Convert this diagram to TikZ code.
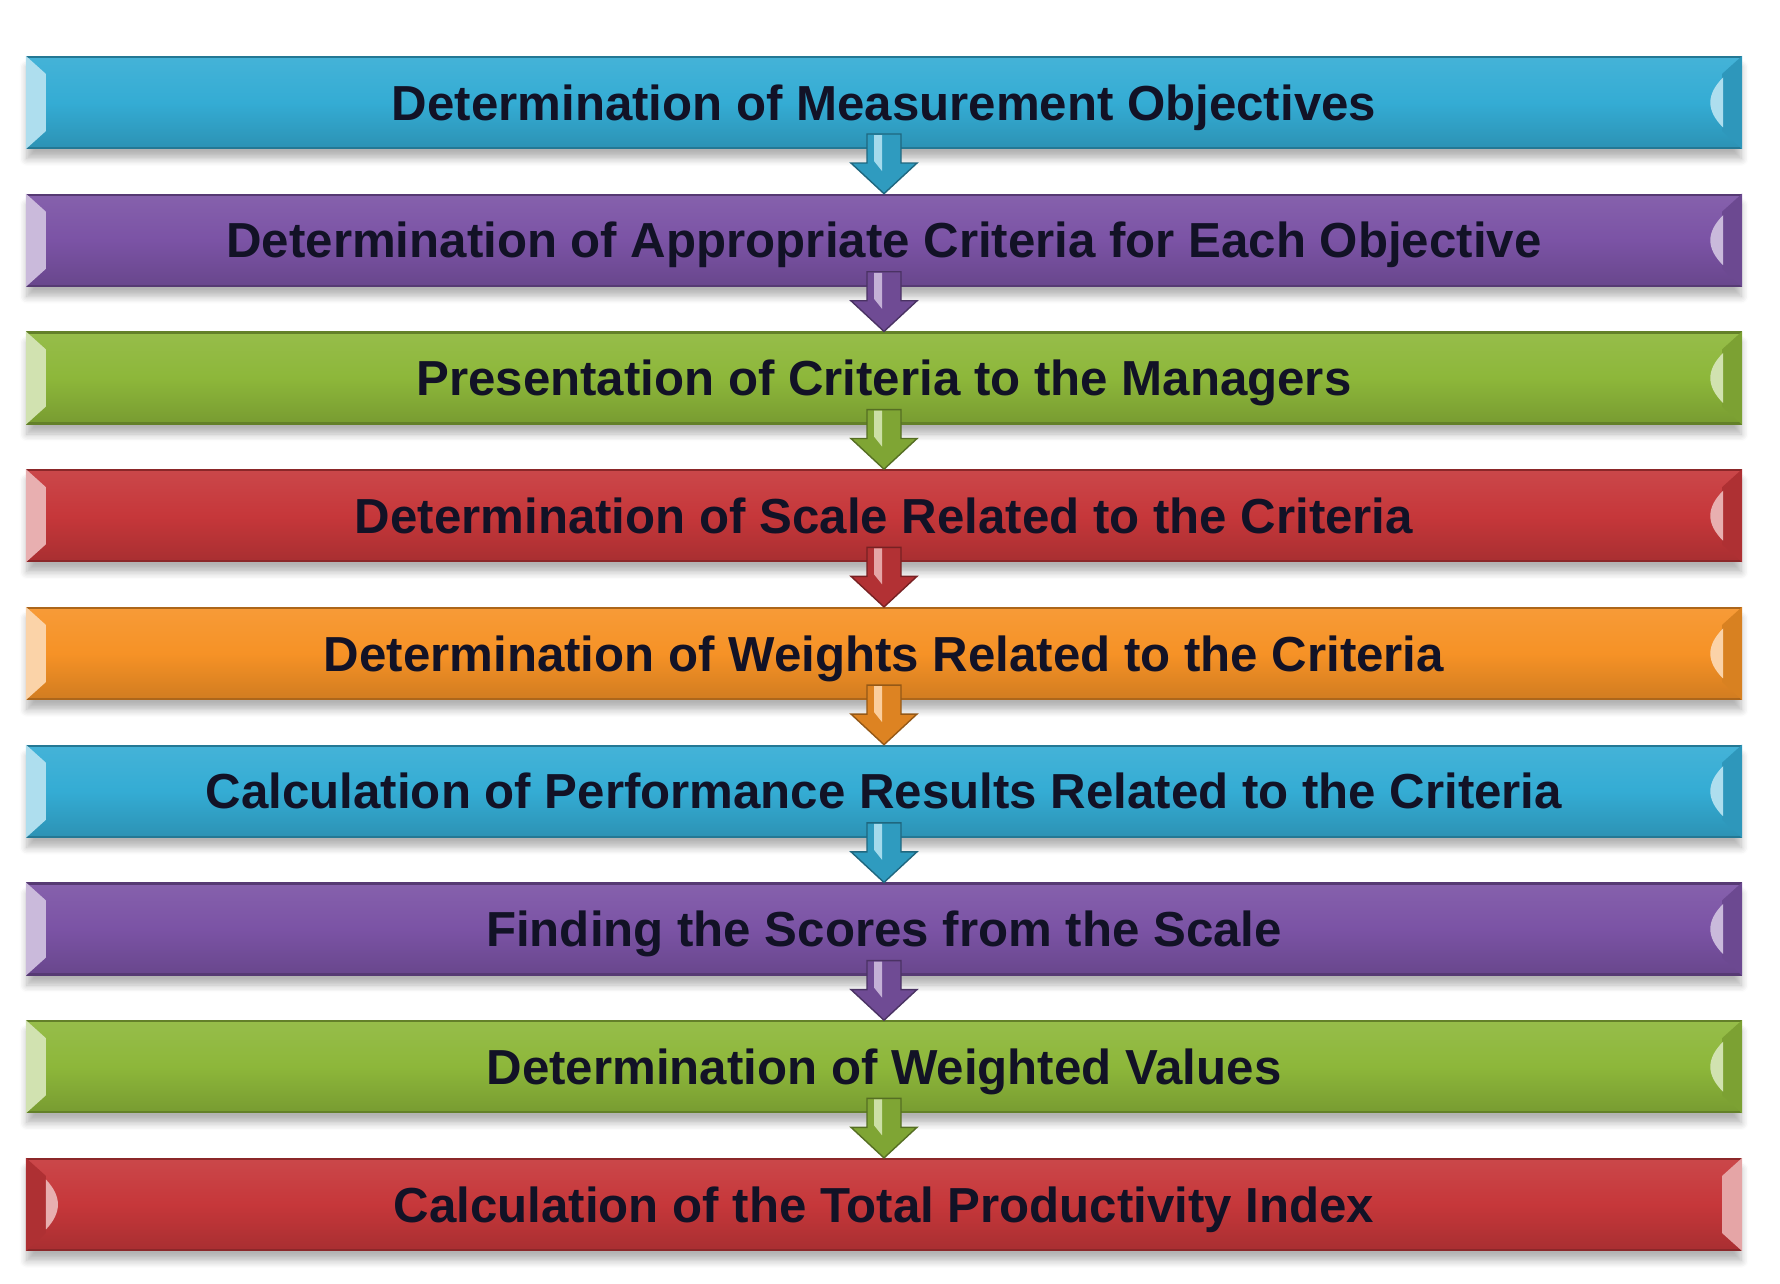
\documentclass[tikz,border=0pt]{standalone}
\usepackage{fontspec}
\setmainfont{Liberation Sans}
\usetikzlibrary{calc,shadows.blur}

\definecolor{cyanbar}{RGB}{52,172,212}
\definecolor{purplebar}{RGB}{123,83,165}
\definecolor{greenbar}{RGB}{141,183,58}
\definecolor{redbar}{RGB}{198,55,58}
\definecolor{orangebar}{RGB}{246,146,38}
\definecolor{textdark}{RGB}{18,18,38}

\begin{document}
\begin{tikzpicture}[stage_bar/.style={rectangle,draw=#1!70!black,line width=0.6pt,
        top color=#1!92!white,bottom color=#1!85!black,middle color=#1,
        minimum width=17.14cm,minimum height=0.91cm,inner sep=0pt,text height=10pt,text depth=0pt,
        font=\fontsize{14}{16}\selectfont\bfseries,text=textdark,
        blur shadow={shadow xshift=0pt,shadow yshift=-3pt,shadow blur steps=6,shadow opacity=30}},
    down_arrow/.style={fill=#1!90!black,draw=#1!60!black,line width=0.4pt}]
    \useasboundingbox (0,0) rectangle (17.8,12.84);
	\node[stage_bar=cyanbar] (s1) at (8.84,11.815) {Determination of Measurement Objectives};
	\node[stage_bar=purplebar] (s2) at (8.84,10.4375) {Determination of Appropriate Criteria for Each Objective};
	\node[stage_bar=greenbar] (s3) at (8.84,9.06) {Presentation of Criteria to the Managers};
	\node[stage_bar=redbar] (s4) at (8.84,7.6825) {Determination of Scale Related to the Criteria};
	\node[stage_bar=orangebar] (s5) at (8.84,6.305) {Determination of Weights Related to the Criteria};
	\node[stage_bar=cyanbar] (s6) at (8.84,4.9275) {Calculation of Performance Results Related to the Criteria};
	\node[stage_bar=purplebar] (s7) at (8.84,3.55) {Finding the Scores from the Scale};
	\node[stage_bar=greenbar] (s8) at (8.84,2.1725) {Determination of Weighted Values};
	\node[stage_bar=redbar] (s9) at (8.84,0.795) {Calculation of the Total Productivity Index};
    % bevelled ends
    \foreach \n/\c in {s1/cyanbar,s2/purplebar,s3/greenbar,s4/redbar,s5/orangebar,s6/cyanbar,s7/purplebar,s8/greenbar}{
        \fill[\c!40!white] (\n.north west) -- ++(0.2,-0.18) -- ($(\n.south west)+(0.2,0.18)$) -- (\n.south west) -- cycle;
        \fill[\c!88!black] (\n.north east) -- ++(-0.2,-0.18) -- ($(\n.south east)+(-0.2,0.18)$) -- (\n.south east) -- cycle;
        \fill[\c!40!white] ($(\n.east)+(-0.19,0.25)$) .. controls ($(\n.east)+(-0.36,0.08)$) and ($(\n.east)+(-0.36,-0.08)$) .. ($(\n.east)+(-0.19,-0.25)$) -- cycle;
    }
    \fill[redbar!88!black] (s9.north west) -- ++(0.2,-0.18) -- ($(s9.south west)+(0.2,0.18)$) -- (s9.south west) -- cycle;
    \fill[redbar!40!white] ($(s9.west)+(0.2,0.25)$) .. controls ($(s9.west)+(0.36,0.08)$) and ($(s9.west)+(0.36,-0.08)$) .. ($(s9.west)+(0.2,-0.25)$) -- cycle;
    \fill[redbar!45!white] (s9.north east) -- ++(-0.2,-0.18) -- ($(s9.south east)+(-0.2,0.18)$) -- (s9.south east) -- cycle;
    % arrows between the stages
    \foreach \a/\b/\c in {s1/s2/cyanbar,s2/s3/purplebar,s3/s4/greenbar,s4/s5/redbar,s5/s6/orangebar,s6/s7/cyanbar,s7/s8/purplebar,s8/s9/greenbar}{
        \draw[down_arrow=\c] ($(\a.south)+(-0.17,0.15)$) -- ($(\a.south)+(-0.17,-0.14)$) -- ($(\a.south)+(-0.33,-0.14)$)
            -- (\b.north) -- ($(\a.south)+(0.33,-0.14)$) -- ($(\a.south)+(0.17,-0.14)$) -- ($(\a.south)+(0.17,0.15)$) -- cycle;
        \fill[\c!45!white] ($(\a.south)+(-0.1,0.14)$) -- ($(\a.south)+(-0.1,-0.12)$) -- ($(\a.south)+(-0.02,-0.22)$) -- ($(\a.south)+(-0.02,0.14)$) -- cycle;
    }
\end{tikzpicture}
\end{document}
